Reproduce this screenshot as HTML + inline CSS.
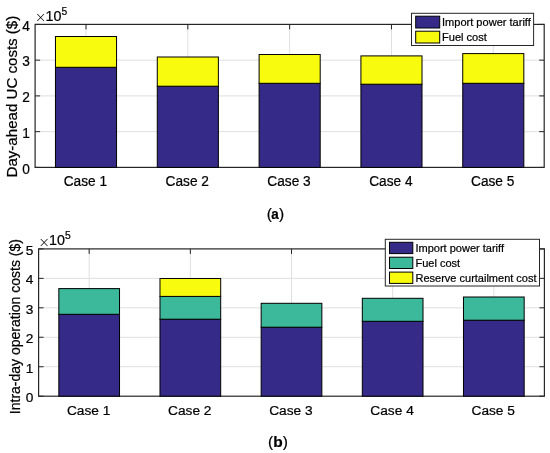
<!DOCTYPE html>
<html><head><meta charset="utf-8"><style>
html,body{margin:0;padding:0;background:#fff;}
svg{display:block;filter:blur(0.3px);}
text{font-family:"Liberation Sans", Arial, Helvetica, sans-serif;fill:#000;stroke:#000;stroke-width:0.22px;}
</style></head><body>
<svg width="550" height="453" viewBox="0 0 550 453">
<rect width="550" height="453" fill="#fff"/>
<line x1="35.1" y1="131.65" x2="544.2" y2="131.65" stroke="#DFDFDF" stroke-width="1"/>
<line x1="35.1" y1="95.90" x2="544.2" y2="95.90" stroke="#DFDFDF" stroke-width="1"/>
<line x1="35.1" y1="60.15" x2="544.2" y2="60.15" stroke="#DFDFDF" stroke-width="1"/>
<line x1="86.01" y1="24.4" x2="86.01" y2="167.4" stroke="#DFDFDF" stroke-width="1"/>
<line x1="187.83" y1="24.4" x2="187.83" y2="167.4" stroke="#DFDFDF" stroke-width="1"/>
<line x1="289.65" y1="24.4" x2="289.65" y2="167.4" stroke="#DFDFDF" stroke-width="1"/>
<line x1="391.47" y1="24.4" x2="391.47" y2="167.4" stroke="#DFDFDF" stroke-width="1"/>
<line x1="493.29" y1="24.4" x2="493.29" y2="167.4" stroke="#DFDFDF" stroke-width="1"/>
<line x1="86.01" y1="167.4" x2="86.01" y2="162.4" stroke="#262626" stroke-width="1"/>
<line x1="86.01" y1="24.4" x2="86.01" y2="29.4" stroke="#262626" stroke-width="1"/>
<line x1="187.83" y1="167.4" x2="187.83" y2="162.4" stroke="#262626" stroke-width="1"/>
<line x1="187.83" y1="24.4" x2="187.83" y2="29.4" stroke="#262626" stroke-width="1"/>
<line x1="289.65" y1="167.4" x2="289.65" y2="162.4" stroke="#262626" stroke-width="1"/>
<line x1="289.65" y1="24.4" x2="289.65" y2="29.4" stroke="#262626" stroke-width="1"/>
<line x1="391.47" y1="167.4" x2="391.47" y2="162.4" stroke="#262626" stroke-width="1"/>
<line x1="391.47" y1="24.4" x2="391.47" y2="29.4" stroke="#262626" stroke-width="1"/>
<line x1="493.29" y1="167.4" x2="493.29" y2="162.4" stroke="#262626" stroke-width="1"/>
<line x1="493.29" y1="24.4" x2="493.29" y2="29.4" stroke="#262626" stroke-width="1"/>
<line x1="35.1" y1="167.40" x2="40.1" y2="167.40" stroke="#262626" stroke-width="1"/>
<line x1="544.2" y1="167.40" x2="539.2" y2="167.40" stroke="#262626" stroke-width="1"/>
<line x1="35.1" y1="131.65" x2="40.1" y2="131.65" stroke="#262626" stroke-width="1"/>
<line x1="544.2" y1="131.65" x2="539.2" y2="131.65" stroke="#262626" stroke-width="1"/>
<line x1="35.1" y1="95.90" x2="40.1" y2="95.90" stroke="#262626" stroke-width="1"/>
<line x1="544.2" y1="95.90" x2="539.2" y2="95.90" stroke="#262626" stroke-width="1"/>
<line x1="35.1" y1="60.15" x2="40.1" y2="60.15" stroke="#262626" stroke-width="1"/>
<line x1="544.2" y1="60.15" x2="539.2" y2="60.15" stroke="#262626" stroke-width="1"/>
<line x1="35.1" y1="24.40" x2="40.1" y2="24.40" stroke="#262626" stroke-width="1"/>
<line x1="544.2" y1="24.40" x2="539.2" y2="24.40" stroke="#262626" stroke-width="1"/>
<rect x="35.1" y="24.4" width="509.1" height="143.0" fill="none" stroke="#262626" stroke-width="1.2"/>
<rect x="55.46" y="67.30" width="61.09" height="100.10" fill="#352A87" stroke="#000" stroke-width="1"/>
<rect x="55.46" y="36.50" width="61.09" height="30.80" fill="#F9FB0E" stroke="#000" stroke-width="1"/>
<rect x="157.28" y="86.20" width="61.09" height="81.20" fill="#352A87" stroke="#000" stroke-width="1"/>
<rect x="157.28" y="57.00" width="61.09" height="29.20" fill="#F9FB0E" stroke="#000" stroke-width="1"/>
<rect x="259.10" y="83.30" width="61.09" height="84.10" fill="#352A87" stroke="#000" stroke-width="1"/>
<rect x="259.10" y="54.50" width="61.09" height="28.80" fill="#F9FB0E" stroke="#000" stroke-width="1"/>
<rect x="360.92" y="84.20" width="61.09" height="83.20" fill="#352A87" stroke="#000" stroke-width="1"/>
<rect x="360.92" y="55.90" width="61.09" height="28.30" fill="#F9FB0E" stroke="#000" stroke-width="1"/>
<rect x="462.74" y="83.30" width="61.09" height="84.10" fill="#352A87" stroke="#000" stroke-width="1"/>
<rect x="462.74" y="53.60" width="61.09" height="29.70" fill="#F9FB0E" stroke="#000" stroke-width="1"/>
<text transform="translate(29.90,173.58) scale(1,1.07)" text-anchor="end" font-size="13.7">0</text>
<text transform="translate(29.90,137.83) scale(1,1.07)" text-anchor="end" font-size="13.7">1</text>
<text transform="translate(29.90,102.08) scale(1,1.07)" text-anchor="end" font-size="13.7">2</text>
<text transform="translate(29.90,66.33) scale(1,1.07)" text-anchor="end" font-size="13.7">3</text>
<text transform="translate(29.90,30.58) scale(1,1.07)" text-anchor="end" font-size="13.7">4</text>
<text transform="translate(85.41,186.30) scale(1,1.07)" text-anchor="middle" font-size="13.7">Case 1</text>
<text transform="translate(187.23,186.30) scale(1,1.07)" text-anchor="middle" font-size="13.7">Case 2</text>
<text transform="translate(289.05,186.30) scale(1,1.07)" text-anchor="middle" font-size="13.7">Case 3</text>
<text transform="translate(390.87,186.30) scale(1,1.07)" text-anchor="middle" font-size="13.7">Case 4</text>
<text transform="translate(492.69,186.30) scale(1,1.07)" text-anchor="middle" font-size="13.7">Case 5</text>
<text transform="translate(34.70,22.20)" font-size="14" style="stroke:none;font-family:&quot;DejaVu Sans&quot;, sans-serif;font-weight:200">×</text>
<text transform="translate(45.60,20.70) scale(1,1.06)" font-size="14.3">10</text>
<text transform="translate(61.50,14.50)" font-size="10.3">5</text>
<text transform="translate(16.60,96.60) scale(1,1.07) rotate(-90)" text-anchor="middle" font-size="14.1">Day-ahead UC costs ($)</text>
<rect x="411.5" y="13.3" width="122.10000000000002" height="32.2" fill="#fff" stroke="#262626" stroke-width="1"/>
<rect x="415.7" y="16.20" width="24" height="11.8" fill="#352A87" stroke="#000" stroke-width="1"/>
<text transform="translate(442.00,26.40) scale(1,1.07)" font-size="11.05">Import power tariff</text>
<rect x="415.7" y="31.20" width="24" height="11.8" fill="#F9FB0E" stroke="#000" stroke-width="1"/>
<text transform="translate(442.00,41.40) scale(1,1.07)" font-size="11.05">Fuel cost</text>
<text x="266.7" y="218.6" font-family='"Liberation Serif", "Times New Roman", serif' font-size="15.5">(<tspan font-weight="bold" dx="-0.6" textLength="7.5" lengthAdjust="spacingAndGlyphs">a</tspan><tspan dx="0.2">)</tspan></text>
<line x1="38.6" y1="366.74" x2="544.4" y2="366.74" stroke="#DFDFDF" stroke-width="1"/>
<line x1="38.6" y1="337.28" x2="544.4" y2="337.28" stroke="#DFDFDF" stroke-width="1"/>
<line x1="38.6" y1="307.82" x2="544.4" y2="307.82" stroke="#DFDFDF" stroke-width="1"/>
<line x1="38.6" y1="278.36" x2="544.4" y2="278.36" stroke="#DFDFDF" stroke-width="1"/>
<line x1="89.18" y1="248.9" x2="89.18" y2="396.2" stroke="#DFDFDF" stroke-width="1"/>
<line x1="190.34" y1="248.9" x2="190.34" y2="396.2" stroke="#DFDFDF" stroke-width="1"/>
<line x1="291.50" y1="248.9" x2="291.50" y2="396.2" stroke="#DFDFDF" stroke-width="1"/>
<line x1="392.66" y1="248.9" x2="392.66" y2="396.2" stroke="#DFDFDF" stroke-width="1"/>
<line x1="493.82" y1="248.9" x2="493.82" y2="396.2" stroke="#DFDFDF" stroke-width="1"/>
<line x1="89.18" y1="396.2" x2="89.18" y2="391.2" stroke="#262626" stroke-width="1"/>
<line x1="89.18" y1="248.9" x2="89.18" y2="253.9" stroke="#262626" stroke-width="1"/>
<line x1="190.34" y1="396.2" x2="190.34" y2="391.2" stroke="#262626" stroke-width="1"/>
<line x1="190.34" y1="248.9" x2="190.34" y2="253.9" stroke="#262626" stroke-width="1"/>
<line x1="291.50" y1="396.2" x2="291.50" y2="391.2" stroke="#262626" stroke-width="1"/>
<line x1="291.50" y1="248.9" x2="291.50" y2="253.9" stroke="#262626" stroke-width="1"/>
<line x1="392.66" y1="396.2" x2="392.66" y2="391.2" stroke="#262626" stroke-width="1"/>
<line x1="392.66" y1="248.9" x2="392.66" y2="253.9" stroke="#262626" stroke-width="1"/>
<line x1="493.82" y1="396.2" x2="493.82" y2="391.2" stroke="#262626" stroke-width="1"/>
<line x1="493.82" y1="248.9" x2="493.82" y2="253.9" stroke="#262626" stroke-width="1"/>
<line x1="38.6" y1="396.20" x2="43.6" y2="396.20" stroke="#262626" stroke-width="1"/>
<line x1="544.4" y1="396.20" x2="539.4" y2="396.20" stroke="#262626" stroke-width="1"/>
<line x1="38.6" y1="366.74" x2="43.6" y2="366.74" stroke="#262626" stroke-width="1"/>
<line x1="544.4" y1="366.74" x2="539.4" y2="366.74" stroke="#262626" stroke-width="1"/>
<line x1="38.6" y1="337.28" x2="43.6" y2="337.28" stroke="#262626" stroke-width="1"/>
<line x1="544.4" y1="337.28" x2="539.4" y2="337.28" stroke="#262626" stroke-width="1"/>
<line x1="38.6" y1="307.82" x2="43.6" y2="307.82" stroke="#262626" stroke-width="1"/>
<line x1="544.4" y1="307.82" x2="539.4" y2="307.82" stroke="#262626" stroke-width="1"/>
<line x1="38.6" y1="278.36" x2="43.6" y2="278.36" stroke="#262626" stroke-width="1"/>
<line x1="544.4" y1="278.36" x2="539.4" y2="278.36" stroke="#262626" stroke-width="1"/>
<line x1="38.6" y1="248.90" x2="43.6" y2="248.90" stroke="#262626" stroke-width="1"/>
<line x1="544.4" y1="248.90" x2="539.4" y2="248.90" stroke="#262626" stroke-width="1"/>
<rect x="38.6" y="248.9" width="505.79999999999995" height="147.29999999999998" fill="none" stroke="#262626" stroke-width="1.2"/>
<rect x="58.83" y="314.30" width="60.70" height="81.90" fill="#352A87" stroke="#000" stroke-width="1"/>
<rect x="58.83" y="288.60" width="60.70" height="25.70" fill="#3CB99B" stroke="#000" stroke-width="1"/>
<rect x="159.99" y="319.20" width="60.70" height="77.00" fill="#352A87" stroke="#000" stroke-width="1"/>
<rect x="159.99" y="296.40" width="60.70" height="22.80" fill="#3CB99B" stroke="#000" stroke-width="1"/>
<rect x="159.99" y="278.50" width="60.70" height="17.90" fill="#F9FB0E" stroke="#000" stroke-width="1"/>
<rect x="261.15" y="327.20" width="60.70" height="69.00" fill="#352A87" stroke="#000" stroke-width="1"/>
<rect x="261.15" y="303.30" width="60.70" height="23.90" fill="#3CB99B" stroke="#000" stroke-width="1"/>
<rect x="362.31" y="321.30" width="60.70" height="74.90" fill="#352A87" stroke="#000" stroke-width="1"/>
<rect x="362.31" y="298.30" width="60.70" height="23.00" fill="#3CB99B" stroke="#000" stroke-width="1"/>
<rect x="463.47" y="320.20" width="60.70" height="76.00" fill="#352A87" stroke="#000" stroke-width="1"/>
<rect x="463.47" y="297.00" width="60.70" height="23.20" fill="#3CB99B" stroke="#000" stroke-width="1"/>
<text transform="translate(33.40,402.00)" text-anchor="end" font-size="13.7">0</text>
<text transform="translate(33.40,372.54)" text-anchor="end" font-size="13.7">1</text>
<text transform="translate(33.40,343.08)" text-anchor="end" font-size="13.7">2</text>
<text transform="translate(33.40,313.62)" text-anchor="end" font-size="13.7">3</text>
<text transform="translate(33.40,284.16)" text-anchor="end" font-size="13.7">4</text>
<text transform="translate(33.40,254.70)" text-anchor="end" font-size="13.7">5</text>
<text transform="translate(88.58,415.10)" text-anchor="middle" font-size="13.7">Case 1</text>
<text transform="translate(189.74,415.10)" text-anchor="middle" font-size="13.7">Case 2</text>
<text transform="translate(290.90,415.10)" text-anchor="middle" font-size="13.7">Case 3</text>
<text transform="translate(392.06,415.10)" text-anchor="middle" font-size="13.7">Case 4</text>
<text transform="translate(493.22,415.10)" text-anchor="middle" font-size="13.7">Case 5</text>
<text transform="translate(38.20,246.70)" font-size="14" style="stroke:none;font-family:&quot;DejaVu Sans&quot;, sans-serif;font-weight:200">×</text>
<text transform="translate(49.10,245.20) scale(1,1.06)" font-size="14.3">10</text>
<text transform="translate(65.00,239.00)" font-size="10.3">5</text>
<text transform="translate(19.90,326.60) rotate(-90)" text-anchor="middle" font-size="14.0">Intra-day operation costs ($)</text>
<rect x="385.3" y="239.3" width="154.2" height="46.69999999999999" fill="#fff" stroke="#262626" stroke-width="1"/>
<rect x="389.5" y="242.30" width="23.3" height="11.3" fill="#352A87" stroke="#000" stroke-width="1"/>
<text transform="translate(415.50,252.00)" font-size="11.0">Import power tariff</text>
<rect x="389.5" y="257.20" width="23.3" height="11.3" fill="#3CB99B" stroke="#000" stroke-width="1"/>
<text transform="translate(415.50,266.90)" font-size="11.0">Fuel cost</text>
<rect x="389.5" y="272.10" width="23.3" height="11.3" fill="#F9FB0E" stroke="#000" stroke-width="1"/>
<text transform="translate(415.50,281.80)" font-size="11.0">Reserve curtailment cost</text>
<text x="268" y="446.8" font-family='"Liberation Serif", "Times New Roman", serif' font-size="15.5">(<tspan font-weight="bold">b</tspan>)</text>
</svg>
</body></html>
